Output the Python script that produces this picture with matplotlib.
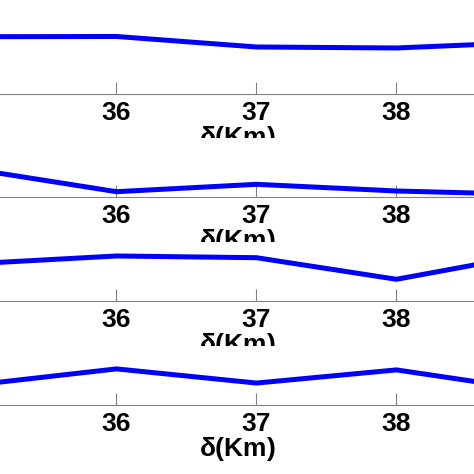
import matplotlib
matplotlib.use("Agg")
import matplotlib.pyplot as plt

plt.rcParams.update({
    "font.family": ["Liberation Sans", "DejaVu Sans"],
    "font.weight": "bold",
    "font.size": 19,
    "mathtext.fontset": "custom",
    "mathtext.rm": "Liberation Sans",
})

delta_km = [35, 36, 37, 38, 39]
tick_values = [36, 37, 38]

# normalised values for the four stacked panels
panel_1 = [0.971, 0.975, 0.797, 0.780, 0.880]
panel_2 = [0.464, 0.090, 0.215, 0.102, 0.041]
panel_3 = [0.634, 0.763, 0.734, 0.368, 0.805]
panel_4 = [0.343, 0.612, 0.372, 0.595, 0.243]
panels = [panel_1, panel_2, panel_3, panel_4]

# axes bottom edges in pixels from the top of the 474px image
bottoms_px = [94, 197, 301, 405]
height_px = 59

fig = plt.figure(figsize=(4.74, 4.74), dpi=100)
fig.patch.set_facecolor("white")

for values, b in zip(panels, bottoms_px):
    ax = fig.add_axes([0, 1 - b / 474, 1, height_px / 474])
    ax.set_facecolor("white")
    ax.plot(delta_km, values, color="#0000ff", linewidth=3.6, clip_on=False,
            solid_joinstyle="miter")
    ax.set_xlim(35.168, 38.554)
    ax.set_ylim(0, 1)
    ax.set_xticks(tick_values)
    ax.set_xticklabels([str(t) for t in tick_values], fontweight="bold")
    ax.set_yticks([])
    ax.tick_params(axis="x", direction="in", length=9, width=0.8,
                   color="#808080", pad=5)
    for side in ["left", "right", "top"]:
        ax.spines[side].set_visible(False)
    ax.spines["bottom"].set_color("#808080")
    ax.spines["bottom"].set_linewidth(0.8)
    ax.set_xlabel(r"$\mathrm{\delta}$(Km)", fontweight="bold", labelpad=-0.5)

fig.savefig("out.png", dpi=100, facecolor="white")
